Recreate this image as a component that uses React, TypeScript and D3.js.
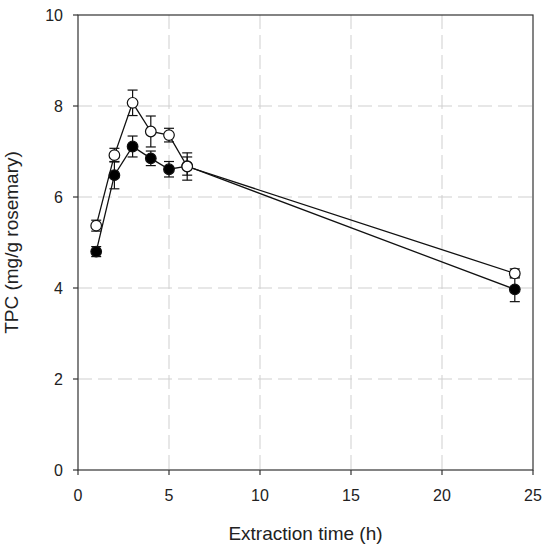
import React from 'react';
import * as d3 from 'd3';

const hours = [1, 2, 3, 4, 5, 6, 24];
const openMean = [5.37, 6.92, 8.07, 7.44, 7.36, 6.67, 4.32];
const openErr = [0.12, 0.15, 0.28, 0.34, 0.15, 0.3, 0.1];
const filledMean = [4.8, 6.48, 7.11, 6.85, 6.61, 6.68, 3.97];
const filledErr = [0.11, 0.3, 0.23, 0.16, 0.17, 0.2, 0.27];
const xTicks = [0, 5, 10, 15, 20, 25];
const yTicks = [0, 2, 4, 6, 8, 10];

const width = 548;
const height = 550;
const margin = { top: 15, right: 15, bottom: 80, left: 78 };
const font = 'Arial, "Liberation Sans", sans-serif';

export default function App() {
    const innerW = width - margin.left - margin.right;
    const innerH = height - margin.top - margin.bottom;

    const x = d3.scaleLinear().domain([0, 25]).range([0, innerW]);
    const y = d3.scaleLinear().domain([0, 10]).range([innerH, 0]);

    const line = d3.line<number>()
        .x((_, i) => x(hours[i]))
        .y(d => y(d));

    const drawSeries = (means: number[], errs: number[], fill: string, key: string) => (
        <g key={key}>
            <path d={line(means) || ''} fill="none" stroke="#111" strokeWidth={1.3} />
            {means.map((m, i) => {
                const cx = x(hours[i]);
                const yTop = y(m + errs[i]);
                const yBot = y(m - errs[i]);
                return (
                    <g key={i} stroke="#111" strokeWidth={1.2}>
                        <line x1={cx} x2={cx} y1={yTop} y2={yBot} />
                        <line x1={cx - 5} x2={cx + 5} y1={yTop} y2={yTop} />
                        <line x1={cx - 5} x2={cx + 5} y1={yBot} y2={yBot} />
                    </g>
                );
            })}
            {means.map((m, i) => (
                <circle key={'c' + i} cx={x(hours[i])} cy={y(m)} r={5.3} fill={fill} stroke="#111" strokeWidth={1.2} />
            ))}
        </g>
    );

    return (
        <div style={{ position: 'absolute', left: 0, top: 0 }}>
            <svg width={width} height={height} style={{ display: 'block', background: '#fff' }}>
                <g transform={`translate(${margin.left},${margin.top})`}>
                    {/* grid */}
                    {xTicks.slice(1, -1).map(t => (
                        <line key={'gx' + t} x1={x(t)} x2={x(t)} y1={0} y2={innerH}
                            stroke="#cfcfcf" strokeWidth={1} strokeDasharray="14,6" />
                    ))}
                    {yTicks.slice(1, -1).map(t => (
                        <line key={'gy' + t} x1={0} x2={innerW} y1={y(t)} y2={y(t)}
                            stroke="#cfcfcf" strokeWidth={1} strokeDasharray="14,6" />
                    ))}

                    {drawSeries(filledMean, filledErr, '#000', 'filled')}
                    {drawSeries(openMean, openErr, '#fff', 'open')}

                    {/* frame */}
                    <rect x={0} y={0} width={innerW} height={innerH} fill="none" stroke="#333" strokeWidth={1.2} />

                    {/* x axis */}
                    {xTicks.map(t => (
                        <g key={'xt' + t} transform={`translate(${x(t)},${innerH})`}>
                            <line y1={0} y2={5} stroke="#333" strokeWidth={1.2} />
                            <text y={31} textAnchor="middle" fontFamily={font} fontSize={16} fill="#222">{t}</text>
                        </g>
                    ))}
                    {/* y axis */}
                    {yTicks.map(t => (
                        <g key={'yt' + t} transform={`translate(0,${y(t)})`}>
                            <line x1={-5} x2={0} stroke="#333" strokeWidth={1.2} />
                            <text x={-15} dy="0.35em" textAnchor="end" fontFamily={font} fontSize={16} fill="#222">{t}</text>
                        </g>
                    ))}

                    <text x={innerW / 2} y={innerH + 70} textAnchor="middle" fontFamily={font} fontSize={19} fill="#222">
                        Extraction time (h)
                    </text>
                    <text transform={`translate(${-60},${innerH / 2}) rotate(-90)`} textAnchor="middle"
                        fontFamily={font} fontSize={19} fill="#222">
                        TPC (mg/g rosemary)
                    </text>
                </g>
            </svg>
        </div>
    );
}
